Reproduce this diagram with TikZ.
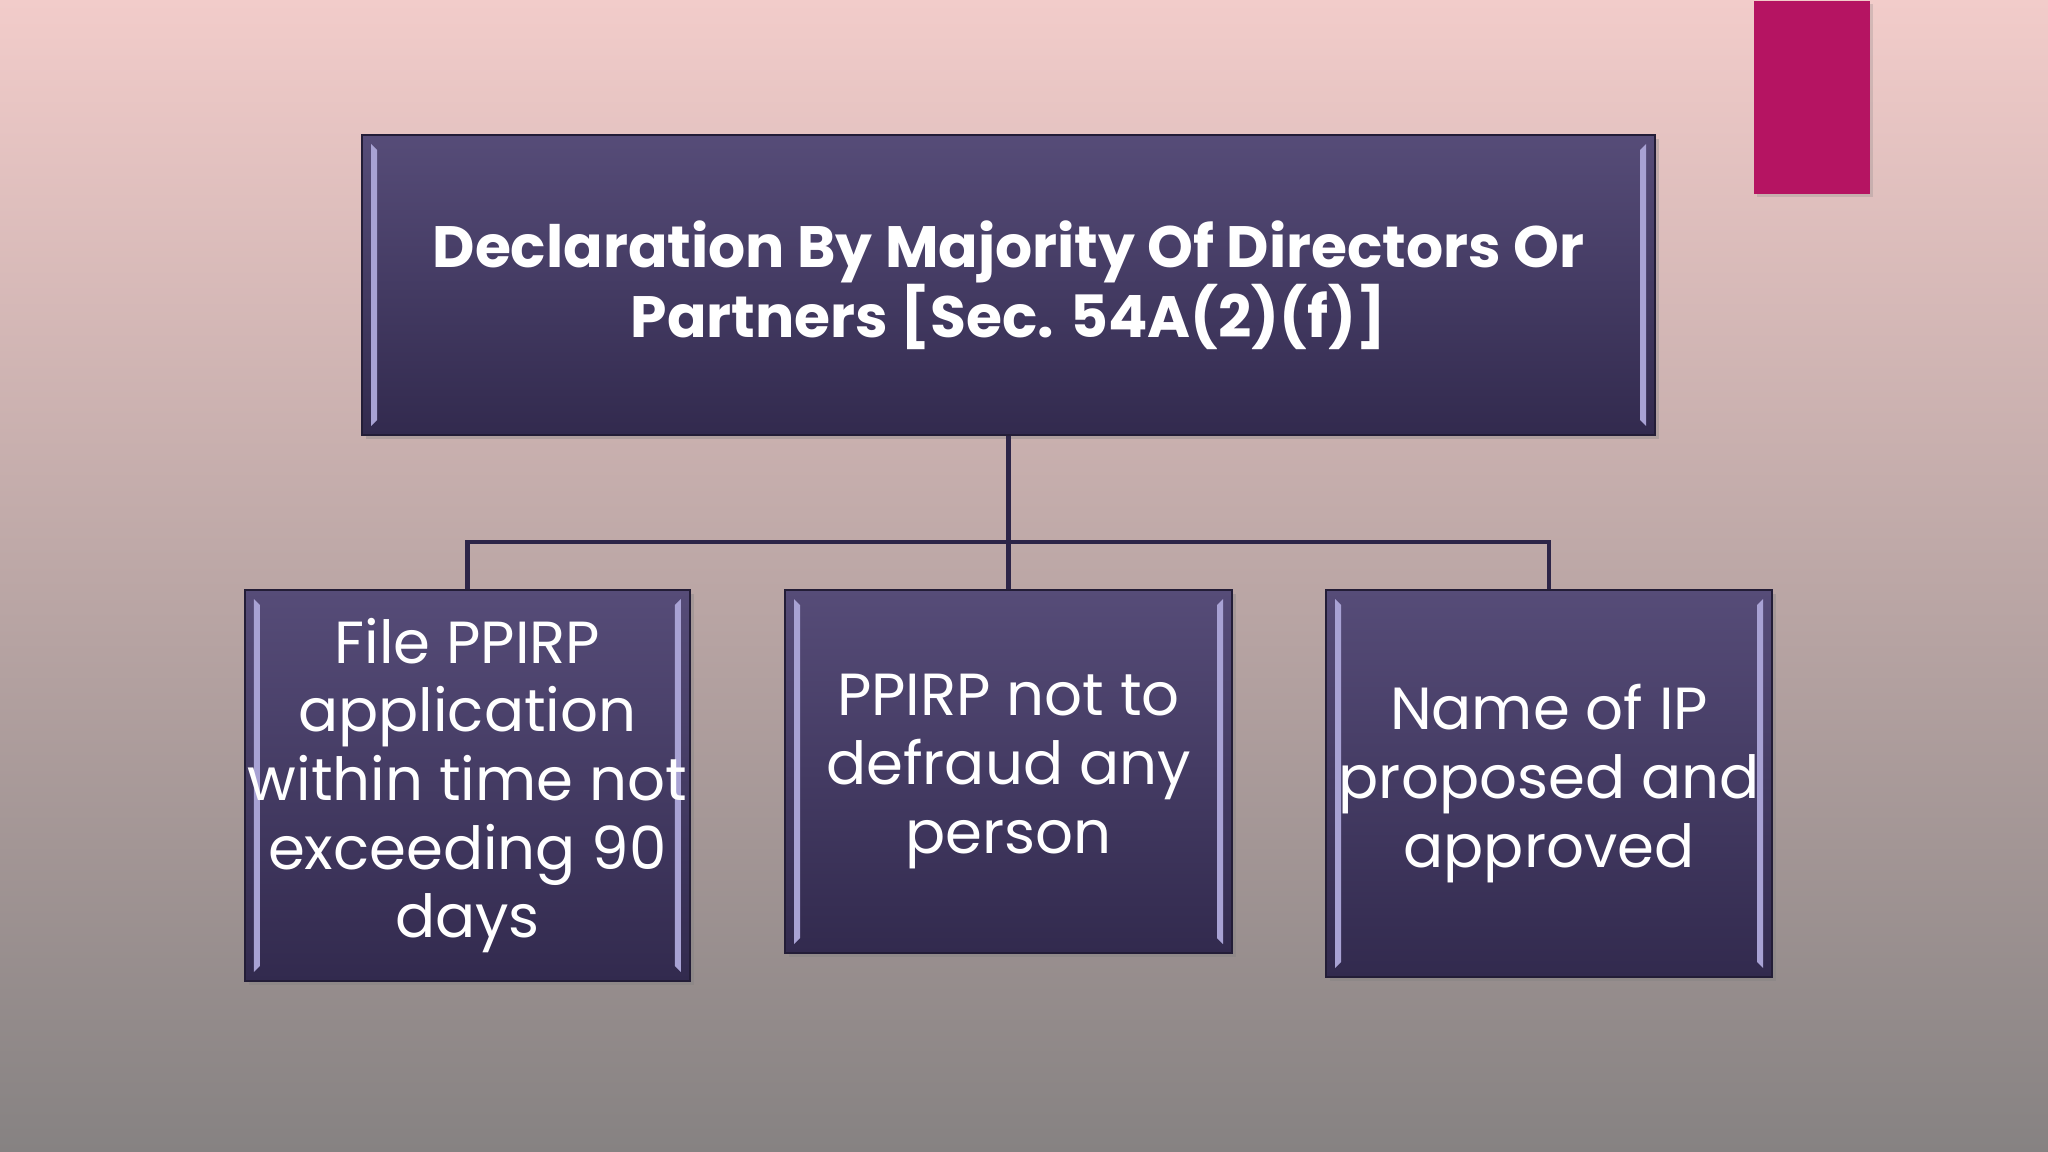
\documentclass[tikz,border=0pt]{standalone}
\usepackage{fontspec}
\setmainfont{Poppins}
\usepackage{tikz}
\usetikzlibrary{positioning, calc, shadows}

\definecolor{boxtop}{RGB}{86,76,120}
\definecolor{boxbot}{RGB}{50,42,78}
\definecolor{bevel}{RGB}{168,162,212}
\definecolor{linkc}{RGB}{45,37,72}
\definecolor{bgtop}{RGB}{242,204,202}
\definecolor{bgmid}{RGB}{196,177,171}
\definecolor{bgbot}{RGB}{134,130,130}
\definecolor{accent}{RGB}{181,20,98}

\tikzset{
  card/.style={draw=boxbot!70!black, line width=0.6pt,
    top color=boxtop, bottom color=boxbot, text=white,
    align=center, inner sep=0pt,
    drop shadow={opacity=0.35, shadow xshift=0.04cm, shadow yshift=-0.04cm},
    path picture={
      \fill[bevel] ($(path picture bounding box.north west)+(0.09,-0.09)$) -- ++(0.06,-0.06)
        -- ($(path picture bounding box.south west)+(0.15,0.15)$) -- ++(-0.06,-0.06) -- cycle;
      \fill[bevel] ($(path picture bounding box.north east)+(-0.09,-0.09)$) -- ++(-0.06,-0.06)
        -- ($(path picture bounding box.south east)+(-0.15,0.15)$) -- ++(0.06,-0.06) -- cycle;
    }},
  headfont/.style={font=\fontsize{16.6}{19.8}\selectfont\bfseries},
  itemfont/.style={font=\fontsize{16.9}{19.5}\selectfont},
  link/.style={draw=linkc, line width=1.2pt}
}

\begin{document}
\begin{tikzpicture}[node distance=0.93cm]
      \useasboundingbox (0,0) rectangle (20.48,-11.52);
      \shade[top color=bgtop, middle color=bgmid, bottom color=bgbot] (0,0) rectangle (20.48,-11.52);
      %
      \node[fill=accent, inner sep=0pt, minimum width=1.16cm, minimum height=1.93cm,
        anchor=north west, drop shadow={opacity=0.25, shadow xshift=0.03cm, shadow yshift=-0.03cm}] (tab) at (17.53,0) {};
      %
      \node[card, headfont, minimum width=12.93cm, minimum height=3.0cm] (decl) at (10.085,-2.85)
        {Declaration By Majority Of Directors Or\\Partners [Sec. 54A(2)(f)]};
      \node[card, itemfont, minimum width=4.47cm, minimum height=3.63cm, anchor=north] (defraud) at (10.085,-5.89)
        {PPIRP not to\\defraud any\\person};
      \node[card, itemfont, minimum width=4.45cm, minimum height=3.91cm, left=of defraud.north west, anchor=north east] (file)
        {File PPIRP\\application\\within time not\\exceeding 90\\days};
      \node[card, itemfont, minimum width=4.46cm, minimum height=3.87cm, right=0.92cm of defraud.north east, anchor=north west] (approve)
        {Name of IP\\proposed and\\approved};
      %
      \coordinate (bus) at ($(decl.south)+(0,-1.06)$);
      \draw[link] (decl.south) -- (bus);
      \draw[link] (bus) -| (file.north);
      \draw[link] (bus) -- (defraud.north);
      \draw[link] (bus) -| (approve.north);
\end{tikzpicture}
\end{document}
